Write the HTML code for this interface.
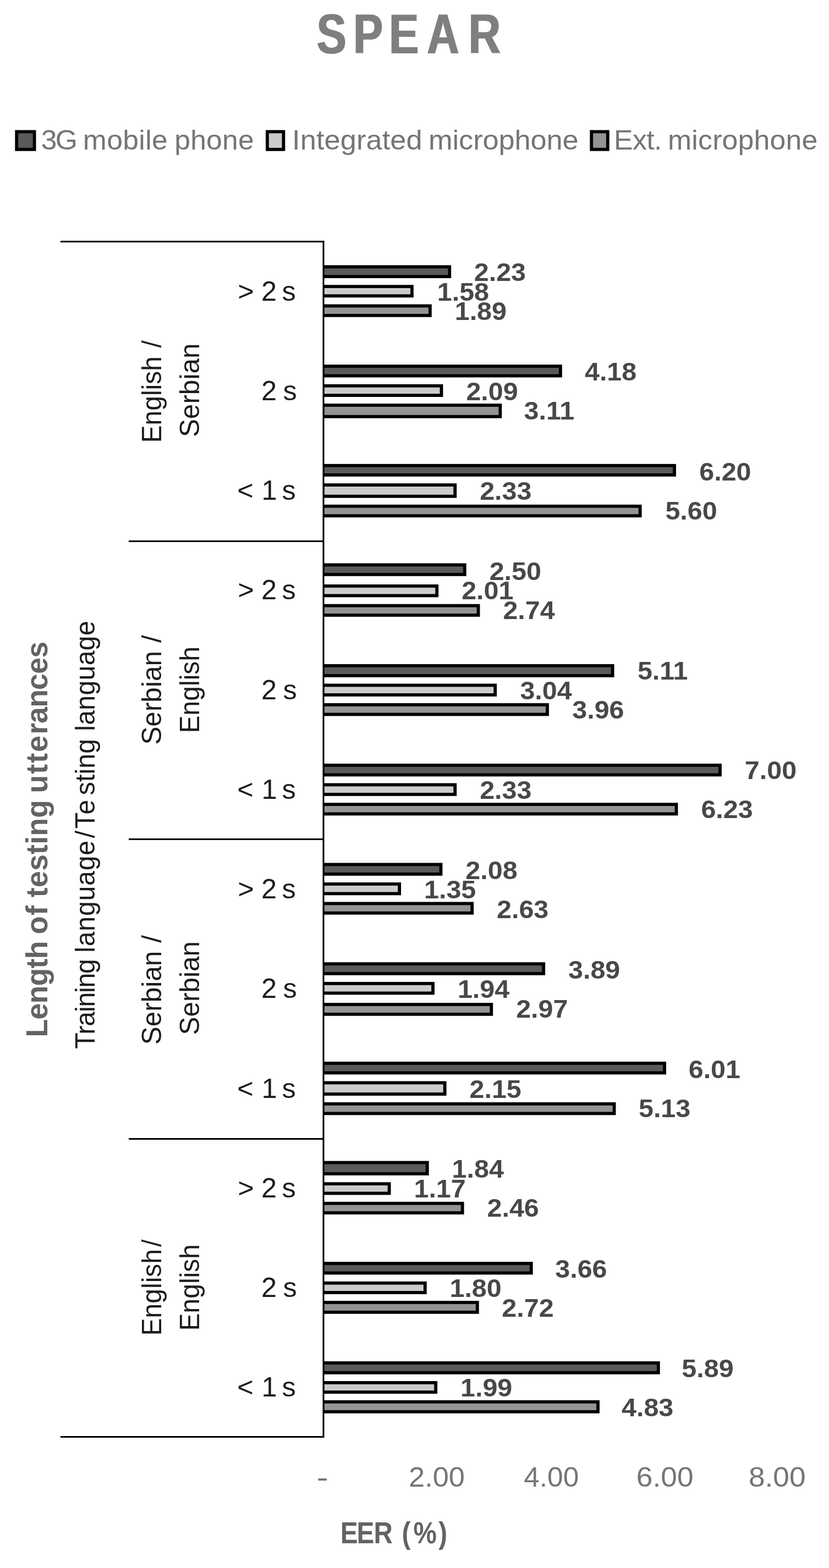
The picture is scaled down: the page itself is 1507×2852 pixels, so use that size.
<!DOCTYPE html>
<html lang="en"><head><meta charset="utf-8"><title>SPEAR</title>
<style>
html,body{margin:0;padding:0;background:#fff}
body{width:1507px;height:2852px;overflow:hidden}
svg{display:block}
text{font-family:"Liberation Sans",sans-serif;white-space:pre}
</style></head>
<body>
<svg width="1507" height="2852" viewBox="0 0 1507 2852">
<rect width="1507" height="2852" fill="#fff"/>
<defs><filter id="wide" x="-5%" y="-20%" width="110%" height="140%"><feMorphology operator="dilate" radius="1 0"/></filter></defs>
<g filter="url(#wide)"><text transform="scale(0.7919,1)" x="726.96 811.08 893.04 980.31 1075.74" y="97.2" fill="#7f7f7f" font-weight="bold" font-size="102">SPEAR</text></g>
<rect x="27.30" y="236.60" width="38.20" height="38.10" fill="#000"/><rect x="33.10" y="242.40" width="26.60" height="26.50" fill="#5a5a5a"/>
<rect x="483.00" y="236.60" width="35.30" height="38.10" fill="#000"/><rect x="488.80" y="242.40" width="23.70" height="26.50" fill="#cbcbcb"/>
<rect x="1072.30" y="236.60" width="35.40" height="38.10" fill="#000"/><rect x="1078.10" y="242.40" width="23.80" height="26.50" fill="#949494"/>
<g fill="#000"><rect x="588.00" y="482.35" width="232.12" height="23.55"/><rect x="588.00" y="518.20" width="163.78" height="22.90"/><rect x="588.00" y="553.50" width="196.75" height="23.20"/><rect x="588.00" y="663.16" width="433.77" height="23.29"/><rect x="588.00" y="698.90" width="217.38" height="23.07"/><rect x="588.00" y="734.10" width="324.25" height="26.50"/><rect x="588.00" y="843.90" width="640.93" height="22.90"/><rect x="588.00" y="879.20" width="242.14" height="26.40"/><rect x="588.00" y="917.85" width="578.54" height="23.25"/><rect x="588.00" y="1024.56" width="259.67" height="23.29"/><rect x="588.00" y="1063.00" width="209.13" height="23.30"/><rect x="588.00" y="1098.70" width="284.43" height="23.10"/><rect x="588.00" y="1207.97" width="528.50" height="23.88"/><rect x="588.00" y="1243.50" width="315.08" height="23.30"/><rect x="588.00" y="1279.00" width="409.87" height="23.30"/><rect x="588.00" y="1388.97" width="723.85" height="23.30"/><rect x="588.00" y="1424.50" width="242.14" height="23.30"/><rect x="588.00" y="1460.20" width="644.42" height="23.10"/><rect x="588.00" y="1569.50" width="216.35" height="23.30"/><rect x="588.00" y="1605.00" width="141.05" height="23.30"/><rect x="588.00" y="1640.50" width="273.08" height="23.10"/><rect x="588.00" y="1750.25" width="403.05" height="23.55"/><rect x="588.00" y="1786.00" width="201.91" height="23.30"/><rect x="588.00" y="1824.10" width="308.16" height="23.60"/><rect x="588.00" y="1931.00" width="622.93" height="23.30"/><rect x="588.00" y="1966.50" width="223.57" height="26.40"/><rect x="588.00" y="2004.90" width="531.46" height="23.30"/><rect x="588.00" y="2111.65" width="191.60" height="26.20"/><rect x="588.00" y="2150.30" width="122.49" height="23.10"/><rect x="588.00" y="2185.90" width="255.55" height="23.00"/><rect x="588.00" y="2295.10" width="380.63" height="23.25"/><rect x="588.00" y="2330.80" width="187.67" height="23.10"/><rect x="588.00" y="2366.10" width="282.67" height="23.60"/><rect x="588.00" y="2476.05" width="611.70" height="23.65"/><rect x="588.00" y="2512.00" width="207.07" height="23.00"/><rect x="588.00" y="2546.90" width="501.91" height="23.80"/></g>
<g><rect x="589.50" y="488.15" width="224.82" height="11.95" fill="#5a5a5a"/><rect x="589.50" y="524.00" width="156.48" height="11.30" fill="#cbcbcb"/><rect x="589.50" y="559.30" width="189.45" height="11.60" fill="#949494"/><rect x="589.50" y="668.96" width="426.47" height="11.69" fill="#5a5a5a"/><rect x="589.50" y="704.70" width="210.08" height="11.47" fill="#cbcbcb"/><rect x="589.50" y="739.90" width="316.95" height="14.90" fill="#949494"/><rect x="589.50" y="849.70" width="633.63" height="11.30" fill="#5a5a5a"/><rect x="589.50" y="885.00" width="234.84" height="14.80" fill="#cbcbcb"/><rect x="589.50" y="923.65" width="571.24" height="11.65" fill="#949494"/><rect x="589.50" y="1030.36" width="252.38" height="11.69" fill="#5a5a5a"/><rect x="589.50" y="1068.80" width="201.83" height="11.70" fill="#cbcbcb"/><rect x="589.50" y="1104.50" width="277.13" height="11.50" fill="#949494"/><rect x="589.50" y="1213.77" width="521.20" height="12.28" fill="#5a5a5a"/><rect x="589.50" y="1249.30" width="307.78" height="11.70" fill="#cbcbcb"/><rect x="589.50" y="1284.80" width="402.57" height="11.70" fill="#949494"/><rect x="589.50" y="1394.77" width="716.55" height="11.70" fill="#5a5a5a"/><rect x="589.50" y="1430.30" width="234.84" height="11.70" fill="#cbcbcb"/><rect x="589.50" y="1466.00" width="637.12" height="11.50" fill="#949494"/><rect x="589.50" y="1575.30" width="209.05" height="11.70" fill="#5a5a5a"/><rect x="589.50" y="1610.80" width="133.75" height="11.70" fill="#cbcbcb"/><rect x="589.50" y="1646.30" width="265.78" height="11.50" fill="#949494"/><rect x="589.50" y="1756.05" width="395.75" height="11.95" fill="#5a5a5a"/><rect x="589.50" y="1791.80" width="194.61" height="11.70" fill="#cbcbcb"/><rect x="589.50" y="1829.90" width="300.86" height="12.00" fill="#949494"/><rect x="589.50" y="1936.80" width="615.63" height="11.70" fill="#5a5a5a"/><rect x="589.50" y="1972.30" width="216.27" height="14.80" fill="#cbcbcb"/><rect x="589.50" y="2010.70" width="524.16" height="11.70" fill="#949494"/><rect x="589.50" y="2117.45" width="184.30" height="14.60" fill="#5a5a5a"/><rect x="589.50" y="2156.10" width="115.19" height="11.50" fill="#cbcbcb"/><rect x="589.50" y="2191.70" width="248.25" height="11.40" fill="#949494"/><rect x="589.50" y="2300.90" width="373.33" height="11.65" fill="#5a5a5a"/><rect x="589.50" y="2336.60" width="180.37" height="11.50" fill="#cbcbcb"/><rect x="589.50" y="2371.90" width="275.37" height="12.00" fill="#949494"/><rect x="589.50" y="2481.85" width="604.40" height="12.05" fill="#5a5a5a"/><rect x="589.50" y="2517.80" width="199.77" height="11.40" fill="#cbcbcb"/><rect x="589.50" y="2552.70" width="494.61" height="12.20" fill="#949494"/></g>
<g fill="#000"><rect x="586.50" y="437.90" width="3.00" height="2177.10"/><rect x="109.90" y="437.90" width="478.10" height="3.00"/><rect x="109.90" y="2612.00" width="478.10" height="3.00"/><rect x="234.00" y="982.95" width="354.00" height="3.00"/><rect x="234.00" y="1524.95" width="354.00" height="3.00"/><rect x="234.00" y="2070.00" width="354.00" height="3.00"/></g>
<text transform="translate(76.90,271.60) scale(1.0222,1)" x="-2 23.27 62.55 72.27 114.72 143.18 171.66 183.26 194.87 222.95 235.15 263.45 291.75 320.06 348.36" font-size="50.5" fill="#757575">3G mobile phone</text>
<text transform="translate(536.00,271.60) scale(1.0366,1)" x="-4.75 9.36 37.54 51.67 79.84 108.03 124.93 153.12 167.24 195.41 223.51 234.45 276.42 287.54 312.7 329.42 357.42 385.41 413.41 441.39 469.4" font-size="50.5" fill="#757575">Integrated microphone</text>
<text transform="translate(1120.10,271.60) scale(1.0252,1)" x="-4 29.13 53.83 67.31 81.35 91.66 133.9 145.3 170.73 187.73 216 244.26 272.54 300.8 329.08" font-size="50.5" fill="#757575">Ext. microphone</text>
<text transform="translate(85.80,1882.90) rotate(-90) scale(0.9705,1)" x="-3.75 29.24 59.2 92.2 125.19 142.81 176.63 189.29 224.49 242.93 258.38 277.01 308 338.98 357.62 373.2 407.21 441.04 453.77 489.69 510.22 530.76 563.67 584.3 614.21 647.12 677.03 706.91" font-size="55.4" fill="#636363" font-weight="bold">Length of testing utterances</text>
<text transform="translate(171.80,1906.90) rotate(-90) scale(0.9660,1)" x="-1 26.35 41.68 68.17 77.95 104.42 114.21 140.69 168.51 180.3 192.14 220.7 249.27 277.83 306.37 334.94 363.5 396.12 413.62 440.36 476.89 501.97 515.95 527.15 555.03 582.85 597.4 608.77 636.86 664.95 693.04 721.11 749.2 777.29" font-size="50" fill="#1c1c1c">Training language/Testing language</text>
<text transform="translate(293.20,801.70) rotate(-90) scale(0.9608,1)" x="-4 29.34 57.16 84.95 96.06 107.17 132.17 159.98 176.14" font-size="50" fill="#1c1c1c">English /</text>
<text transform="translate(361.50,792.90) rotate(-90) scale(0.9898,1)" x="-2.25 31.09 58.91 75.55 103.36 114.47 142.28" font-size="50" fill="#1c1c1c">Serbian</text>
<text transform="translate(293.20,1352.40) rotate(-90) scale(0.9898,1)" x="-2.25 31.09 58.91 75.55 103.36 114.47 142.28 170.08 185.41" font-size="50" fill="#1c1c1c">Serbian /</text>
<text transform="translate(361.50,1329.60) rotate(-90) scale(0.9608,1)" x="-4 29.34 57.16 84.95 96.06 107.17 132.17" font-size="50" fill="#1c1c1c">English</text>
<text transform="translate(293.20,1898.00) rotate(-90) scale(0.9898,1)" x="-2.25 31.09 58.91 75.55 103.36 114.47 142.28 170.08 185.11" font-size="50" fill="#1c1c1c">Serbian /</text>
<text transform="translate(361.50,1880.30) rotate(-90) scale(0.9898,1)" x="-2.25 31.09 58.91 75.55 103.36 114.47 142.28" font-size="50" fill="#1c1c1c">Serbian</text>
<text transform="translate(293.20,2425.60) rotate(-90) scale(0.9608,1)" x="-4 29.34 57.16 84.95 96.06 107.17 132.17 164.17" font-size="50" fill="#1c1c1c">English/</text>
<text transform="translate(361.50,2416.70) rotate(-90) scale(0.9608,1)" x="-4 29.34 57.16 84.95 96.06 107.17 132.17" font-size="50" fill="#1c1c1c">English</text>
<text transform="translate(435.00,546.55)" x="-2.85 26.63 40.1 68.18 77.4" font-size="50.5" fill="#1c1c1c">&gt; 2 s</text>
<text transform="translate(861.82,511.15) scale(1.0300,1)" x="0" font-size="47" fill="#484848" font-weight="bold">2.23</text>
<text transform="translate(794.78,546.65) scale(1.0300,1)" x="0" font-size="47" fill="#484848" font-weight="bold">1.58</text>
<text transform="translate(826.75,582.15) scale(1.0300,1)" x="0" font-size="47" fill="#484848" font-weight="bold">1.89</text>
<text transform="translate(477.10,727.80)" x="-2 26.08 37.5" font-size="50.5" fill="#1c1c1c">2 s</text>
<text transform="translate(1062.97,692.40) scale(1.0300,1)" x="0" font-size="47" fill="#484848" font-weight="bold">4.18</text>
<text transform="translate(847.38,727.90) scale(1.0300,1)" x="0" font-size="47" fill="#484848" font-weight="bold">2.09</text>
<text transform="translate(952.60,763.40) scale(1.0300,1)" x="0" font-size="47" fill="#484848" font-weight="bold">3.11</text>
<text transform="translate(433.00,909.05)" x="-1.75 27.73 42.5 70.58 79.4" font-size="50.5" fill="#1c1c1c">&lt; 1 s</text>
<text transform="translate(1271.33,873.65) scale(1.0300,1)" x="0" font-size="47" fill="#484848" font-weight="bold">6.20</text>
<text transform="translate(872.14,909.15) scale(1.0300,1)" x="0" font-size="47" fill="#484848" font-weight="bold">2.33</text>
<text transform="translate(1209.44,944.65) scale(1.0300,1)" x="0" font-size="47" fill="#484848" font-weight="bold">5.60</text>
<text transform="translate(435.00,1090.30)" x="-2.85 26.63 40.1 68.18 77.4" font-size="50.5" fill="#1c1c1c">&gt; 2 s</text>
<text transform="translate(889.67,1054.90) scale(1.0300,1)" x="0" font-size="47" fill="#484848" font-weight="bold">2.50</text>
<text transform="translate(839.13,1090.40) scale(1.0300,1)" x="0" font-size="47" fill="#484848" font-weight="bold">2.01</text>
<text transform="translate(914.43,1125.90) scale(1.0300,1)" x="0" font-size="47" fill="#484848" font-weight="bold">2.74</text>
<text transform="translate(477.10,1271.55)" x="-2 26.08 37.5" font-size="50.5" fill="#1c1c1c">2 s</text>
<text transform="translate(1158.90,1236.15) scale(1.0300,1)" x="0" font-size="47" fill="#484848" font-weight="bold">5.11</text>
<text transform="translate(945.38,1271.65) scale(1.0300,1)" x="0" font-size="47" fill="#484848" font-weight="bold">3.04</text>
<text transform="translate(1040.27,1307.15) scale(1.0300,1)" x="0" font-size="47" fill="#484848" font-weight="bold">3.96</text>
<text transform="translate(433.00,1452.80)" x="-1.75 27.73 42.5 70.58 79.4" font-size="50.5" fill="#1c1c1c">&lt; 1 s</text>
<text transform="translate(1353.85,1417.40) scale(1.0300,1)" x="0" font-size="47" fill="#484848" font-weight="bold">7.00</text>
<text transform="translate(872.14,1452.90) scale(1.0300,1)" x="0" font-size="47" fill="#484848" font-weight="bold">2.33</text>
<text transform="translate(1274.42,1488.40) scale(1.0300,1)" x="0" font-size="47" fill="#484848" font-weight="bold">6.23</text>
<text transform="translate(435.00,1634.05)" x="-2.85 26.63 40.1 68.18 77.4" font-size="50.5" fill="#1c1c1c">&gt; 2 s</text>
<text transform="translate(846.35,1598.65) scale(1.0300,1)" x="0" font-size="47" fill="#484848" font-weight="bold">2.08</text>
<text transform="translate(771.05,1634.15) scale(1.0300,1)" x="0" font-size="47" fill="#484848" font-weight="bold">1.35</text>
<text transform="translate(903.08,1669.65) scale(1.0300,1)" x="0" font-size="47" fill="#484848" font-weight="bold">2.63</text>
<text transform="translate(477.10,1815.30)" x="-2 26.08 37.5" font-size="50.5" fill="#1c1c1c">2 s</text>
<text transform="translate(1033.05,1779.90) scale(1.0300,1)" x="0" font-size="47" fill="#484848" font-weight="bold">3.89</text>
<text transform="translate(831.91,1815.40) scale(1.0300,1)" x="0" font-size="47" fill="#484848" font-weight="bold">1.94</text>
<text transform="translate(938.16,1850.90) scale(1.0300,1)" x="0" font-size="47" fill="#484848" font-weight="bold">2.97</text>
<text transform="translate(433.00,1996.55)" x="-1.75 27.73 42.5 70.58 79.4" font-size="50.5" fill="#1c1c1c">&lt; 1 s</text>
<text transform="translate(1251.73,1961.15) scale(1.0300,1)" x="0" font-size="47" fill="#484848" font-weight="bold">6.01</text>
<text transform="translate(853.57,1996.65) scale(1.0300,1)" x="0" font-size="47" fill="#484848" font-weight="bold">2.15</text>
<text transform="translate(1160.96,2032.15) scale(1.0300,1)" x="0" font-size="47" fill="#484848" font-weight="bold">5.13</text>
<text transform="translate(435.00,2177.80)" x="-2.85 26.63 40.1 68.18 77.4" font-size="50.5" fill="#1c1c1c">&gt; 2 s</text>
<text transform="translate(821.60,2142.40) scale(1.0300,1)" x="0" font-size="47" fill="#484848" font-weight="bold">1.84</text>
<text transform="translate(752.49,2177.90) scale(1.0300,1)" x="0" font-size="47" fill="#484848" font-weight="bold">1.17</text>
<text transform="translate(885.55,2213.40) scale(1.0300,1)" x="0" font-size="47" fill="#484848" font-weight="bold">2.46</text>
<text transform="translate(477.10,2359.05)" x="-2 26.08 37.5" font-size="50.5" fill="#1c1c1c">2 s</text>
<text transform="translate(1009.33,2323.65) scale(1.0300,1)" x="0" font-size="47" fill="#484848" font-weight="bold">3.66</text>
<text transform="translate(817.47,2359.15) scale(1.0300,1)" x="0" font-size="47" fill="#484848" font-weight="bold">1.80</text>
<text transform="translate(912.37,2394.65) scale(1.0300,1)" x="0" font-size="47" fill="#484848" font-weight="bold">2.72</text>
<text transform="translate(433.00,2540.30)" x="-1.75 27.73 42.5 70.58 79.4" font-size="50.5" fill="#1c1c1c">&lt; 1 s</text>
<text transform="translate(1239.35,2504.90) scale(1.0300,1)" x="0" font-size="47" fill="#484848" font-weight="bold">5.89</text>
<text transform="translate(837.07,2540.40) scale(1.0300,1)" x="0" font-size="47" fill="#484848" font-weight="bold">1.99</text>
<text transform="translate(1130.01,2575.90) scale(1.0300,1)" x="0" font-size="47" fill="#484848" font-weight="bold">4.83</text>
<text transform="translate(578.60,2703.70) scale(1.2571,1)" x="-2.25" font-size="50" fill="#757575">-</text>
<text transform="translate(745.70,2703.70) scale(1.0473,1)" x="-2.5 25.3 39.19 67" font-size="50" fill="#757575">2.00</text>
<text transform="translate(953.30,2703.70) scale(1.0275,1)" x="-1 26.8 40.69 68.5" font-size="50" fill="#757575">4.00</text>
<text transform="translate(1159.50,2703.70) scale(1.0667,1)" x="-2.5 25.3 39.19 67" font-size="50" fill="#757575">6.00</text>
<text transform="translate(1363.40,2703.70) scale(1.0638,1)" x="-2.25 25.55 39.44 67.25" font-size="50" fill="#757575">8.00</text>
<text transform="translate(622.60,2807.30) scale(0.8600,1)" x="-4.48 30.11 66.08 106.08 125.43 149.86 203.17" font-size="55.4" fill="#636363" font-weight="bold">EER (%)</text>
</svg>
</body></html>
